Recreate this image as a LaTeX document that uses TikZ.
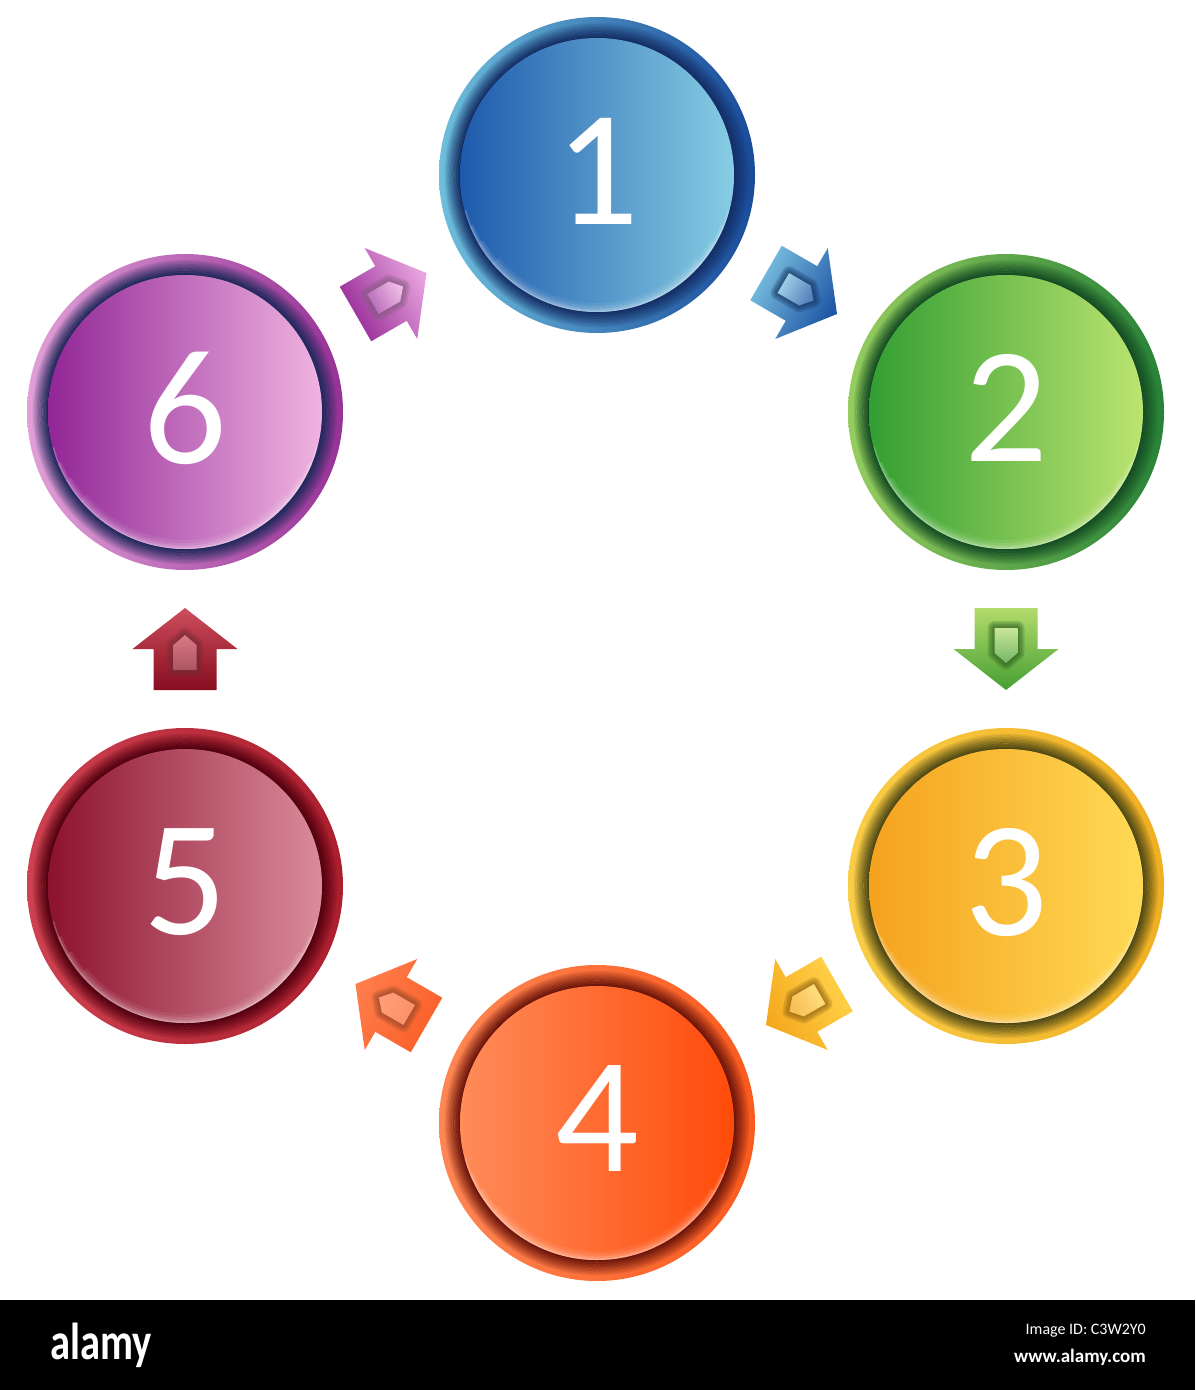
\documentclass[tikz,border=0pt]{standalone}
\usepackage{fontspec}
\setmainfont{Carlito}
\usetikzlibrary{backgrounds,calc}

% ring / shadow / inner disc colours of the six steps
\definecolor{ringL1}{RGB}{110,190,220}\definecolor{ringR1}{RGB}{25,75,155}
\definecolor{shadow1}{RGB}{20,45,100}\definecolor{inL1}{RGB}{30,90,172}\definecolor{inR1}{RGB}{135,205,228}
\definecolor{ringL2}{RGB}{150,205,95}\definecolor{ringR2}{RGB}{40,130,55}
\definecolor{shadow2}{RGB}{20,75,35}\definecolor{inL2}{RGB}{50,158,50}\definecolor{inR2}{RGB}{188,228,112}
\definecolor{ringL3}{RGB}{250,205,70}\definecolor{ringR3}{RGB}{240,175,35}
\definecolor{shadow3}{RGB}{75,70,20}\definecolor{inL3}{RGB}{245,162,30}\definecolor{inR3}{RGB}{255,218,85}
\definecolor{ringL4}{RGB}{255,135,85}\definecolor{ringR4}{RGB}{250,90,30}
\definecolor{shadow4}{RGB}{105,20,10}\definecolor{inL4}{RGB}{255,140,90}\definecolor{inR4}{RGB}{255,75,10}
\definecolor{ringL5}{RGB}{205,65,80}\definecolor{ringR5}{RGB}{170,30,45}
\definecolor{shadow5}{RGB}{80,0,15}\definecolor{inL5}{RGB}{140,18,45}\definecolor{inR5}{RGB}{218,140,155}
\definecolor{ringL6}{RGB}{225,160,215}\definecolor{ringR6}{RGB}{150,50,150}
\definecolor{shadow6}{RGB}{30,40,90}\definecolor{inL6}{RGB}{145,38,150}\definecolor{inR6}{RGB}{240,180,225}
% arrow colours (back / tip)
\definecolor{arrB1}{RGB}{125,195,225}\definecolor{arrT1}{RGB}{30,85,165}
\definecolor{arrB2}{RGB}{178,220,108}\definecolor{arrT2}{RGB}{70,158,50}
\definecolor{arrB3}{RGB}{255,212,75}\definecolor{arrT3}{RGB}{245,168,30}
\definecolor{arrB4}{RGB}{250,95,40}\definecolor{arrT4}{RGB}{255,125,75}
\definecolor{arrB5}{RGB}{135,12,32}\definecolor{arrT5}{RGB}{205,78,92}
\definecolor{arrB6}{RGB}{150,40,150}\definecolor{arrT6}{RGB}{232,165,222}

\begin{document}
\begin{tikzpicture}[x=1pt, y=-1pt,
    num/.style={text=white, font=\fontsize{165}{165}\selectfont, inner sep=0pt, text depth=8pt},
    bartext/.style={text=white, inner sep=0pt, anchor=east}]
    \useasboundingbox (0,0) rectangle (1195,1390);

    \node[num] (c1) at (597,175)  {1};
    \node[num] (c2) at (1006,412) {2};
    \node[num] (c3) at (1006,886) {3};
    \node[num] (c4) at (597,1123) {4};
    \node[num] (c5) at (185,886)  {5};
    \node[num] (c6) at (185,412)  {6};

    \begin{pgfonlayer}{background}
      \fill[white] (0,0) rectangle (1195,1390);
      \foreach \n in {1,...,6} {
        \shade[left color=ringL\n, right color=ringR\n] (c\n) circle[radius=158];
        \foreach \k [evaluate=\k as \op using 1-0.09*\k] in {0,...,10}
          \draw[shadow\n, line width=1.6pt, opacity=\op] (c\n) circle[radius=137.5+1.4*\k];
        \shade[left color=inL\n, right color=inR\n] (c\n) circle[radius=137];
        \begin{scope}
          \clip (c\n) circle[radius=137];
          \foreach \w/\o/\s in {18/.07/40, 12/.10/30, 7/.14/22, 3/.22/15}
            \draw[white, opacity=\o, line width=\w pt] ($(c\n)+(\s:137)$) arc[start angle=\s, end angle=180-\s, radius=137];
        \end{scope}
      }
    \end{pgfonlayer}

    % block arrows between the steps
    \foreach \a/\b/\ang/\sh in {1/2/-30/-120, 2/3/-90/180, 3/4/-150/120, 4/5/150/60, 5/6/90/0, 6/1/30/-60} {
      \begin{scope}[shift={($(c\a)!0.5!(c\b)$)}, rotate=\ang]
        \shade[bottom color=arrB\a, top color=arrT\a, shading angle=\sh]
          (-41,-31.5) -- (0,-31.5) -- (0,-52.5) -- (41,0) -- (0,52.5) -- (0,31.5) -- (-41,31.5) -- cycle;
        \foreach \w in {2,5,8,11,14}
          \draw[arrT\a!55!black, opacity=.2, line width=\w pt, line join=round]
            (-21,-11.5) -- (4,-11.5) -- (14,0) -- (4,11.5) -- (-21,11.5) -- cycle;
        \shade[bottom color=arrB\a!70!white, top color=arrT\a!75!white, shading angle=\sh]
          (-21,-11.5) -- (4,-11.5) -- (14,0) -- (4,11.5) -- (-21,11.5) -- cycle;
      \end{scope}
    }

    % stock bar
    \fill[black] (0,1300) rectangle (1195,1390);
    \node[text=white, inner sep=0pt, font=\bfseries\fontsize{52}{52}\selectfont] (logo) at (101,1345) {\scalebox{0.78}[1]{alamy}};
    \node[bartext, font=\fontsize{16}{16}\selectfont] (imgid) at (1146,1331) {Image ID: C3W2Y0};
    \node[bartext, font=\bfseries\fontsize{19}{19}\selectfont] (url) at (1146,1357) {www.alamy.com};
\end{tikzpicture}
\end{document}
